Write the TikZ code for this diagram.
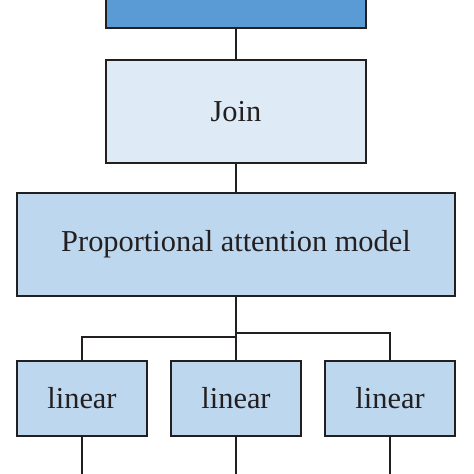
\documentclass[tikz,border=0pt]{standalone}
\usepackage{fontspec}
\setmainfont{Liberation Serif}
\definecolor{topblue}{HTML}{5B9BD5}
\definecolor{paleblue}{HTML}{DEEAF6}
\definecolor{midblue}{HTML}{BDD7EE}
\definecolor{ink}{HTML}{231F20}
\begin{document}
\begin{tikzpicture}[x=1pt,y=-1pt,
  box/.style={draw=ink,line width=1.4pt,inner sep=0pt,font=\fontsize{30.4}{36}\selectfont,text=ink},
  wire/.style={draw=ink,line width=1.2pt}]
\useasboundingbox (0,0) rectangle (474,474);
\clip (0,0) rectangle (474,474);
\node[box,fill=topblue,minimum width=260pt,minimum height=60pt] (top) at (236,-2) {};
\node[box,fill=paleblue,minimum width=260pt,minimum height=103pt] (join) at (236,111.5) {Join};
\node[box,fill=midblue,minimum width=438pt,minimum height=103pt] (pam) at (236,244.5) {Proportional attention model};
\node[box,fill=midblue,minimum width=130pt,minimum height=75pt] (l1) at (82,398.5) {linear};
\node[box,fill=midblue,minimum width=130pt,minimum height=75pt] (l2) at (236,398.5) {linear};
\node[box,fill=midblue,minimum width=130pt,minimum height=75pt] (l3) at (390,398.5) {linear};
\coordinate (bl) at (236,337);
\coordinate (br) at (236,333);
\coordinate (e1) at (82,480);
\coordinate (e2) at (236,480);
\coordinate (e3) at (390,480);
\draw[wire] (top.south) -- (join.north);
\draw[wire] (join.south) -- (pam.north);
\draw[wire] (pam.south) -- (l2.north);
\draw[wire] (bl) -| (l1.north);
\draw[wire] (br) -| (l3.north);
\draw[wire] (l1.south) -- (e1);
\draw[wire] (l2.south) -- (e2);
\draw[wire] (l3.south) -- (e3);
\end{tikzpicture}
\end{document}
